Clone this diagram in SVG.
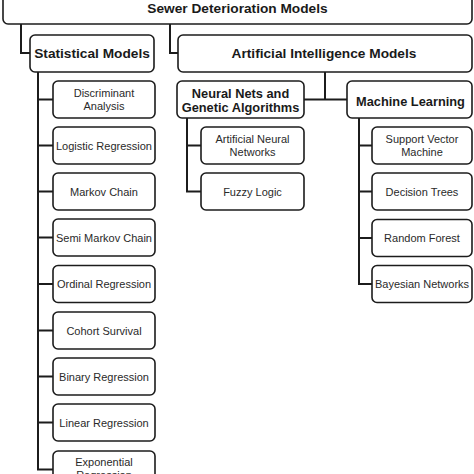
<svg xmlns="http://www.w3.org/2000/svg" width="474" height="474" viewBox="0 0 474 474">
<style>
.box{fill:#fff;stroke:#1c1c1c;stroke-width:1.6}
.con{fill:none;stroke:#1c1c1c;stroke-width:2}
.h{font-family:"Liberation Sans",Arial,sans-serif;font-weight:bold;font-size:13.7px;fill:#1a1a1a;text-anchor:middle}
.h2{font-family:"Liberation Sans",Arial,sans-serif;font-weight:bold;font-size:12.8px;fill:#1a1a1a;text-anchor:middle}
.t{font-family:"Liberation Sans",Arial,sans-serif;font-size:11px;fill:#2a2a2a;text-anchor:middle}
</style>
<rect width="474" height="474" fill="#fff"/>
<g id="connectors">
<path class="con" d="M21,24 V53 H30"/>
<path class="con" d="M170,24 V53 H178"/>
<path class="con" d="M38,72 V469.5 H53 M38,99.5 H53 M38,145.5 H53 M38,191.5 H53 M38,237.5 H53 M38,284 H53 M38,330.5 H53 M38,376.5 H53 M38,422.5 H53"/>
<path class="con" d="M325,72 V99.5 M304,99.5 H347"/>
<path class="con" d="M187,118 V191.5 H201 M187,145.5 H201"/>
<path class="con" d="M359,118 V284 H372 M359,145.5 H372 M359,191.5 H372 M359,238 H372"/>
</g>
<g id="root"><rect class="box" x="3" y="-10" width="469" height="34" rx="5"/><text class="h" x="237.5" y="13">Sewer Deterioration Models</text></g>
<g id="statistical"><rect class="box" x="30" y="35" width="124" height="37" rx="5"/><text class="h" x="92" y="58">Statistical Models</text></g>
<g id="ai"><rect class="box" x="178" y="35" width="294" height="37" rx="5"/><text class="h" x="324" y="58">Artificial Intelligence Models</text></g>
<g id="nn"><rect class="box" x="177" y="81" width="127" height="37" rx="5"/><text class="h2" x="240.5" y="97.5">Neural Nets and</text><text class="h2" x="240.5" y="111.5">Genetic Algorithms</text></g>
<g id="ml"><rect class="box" x="347" y="81" width="125" height="37" rx="5"/><text class="h2" x="410.5" y="105.5">Machine Learning</text></g>
<g id="discriminant"><rect class="box" x="53" y="81" width="102" height="37" rx="5"/><text class="t" x="104" y="97">Discriminant</text><text class="t" x="104" y="110">Analysis</text></g>
<g id="logistic"><rect class="box" x="53" y="127" width="102" height="37" rx="5"/><text class="t" x="104" y="149.5">Logistic Regression</text></g>
<g id="markov"><rect class="box" x="53" y="173" width="102" height="37" rx="5"/><text class="t" x="104" y="195.5">Markov Chain</text></g>
<g id="semimarkov"><rect class="box" x="53" y="219" width="102" height="37" rx="5"/><text class="t" x="104" y="241.5">Semi Markov Chain</text></g>
<g id="ordinal"><rect class="box" x="53" y="265.5" width="102" height="37" rx="5"/><text class="t" x="104" y="288">Ordinal Regression</text></g>
<g id="cohort"><rect class="box" x="53" y="312" width="102" height="37" rx="5"/><text class="t" x="104" y="334.5">Cohort Survival</text></g>
<g id="binary"><rect class="box" x="53" y="358" width="102" height="37" rx="5"/><text class="t" x="104" y="380.5">Binary Regression</text></g>
<g id="linear"><rect class="box" x="53" y="404" width="102" height="37" rx="5"/><text class="t" x="104" y="426.5">Linear Regression</text></g>
<g id="exponential"><rect class="box" x="53" y="451" width="102" height="37" rx="5"/><text class="t" x="104" y="466">Exponential</text><text class="t" x="104" y="479">Regression</text></g>
<g id="ann"><rect class="box" x="201" y="127" width="103" height="37" rx="5"/><text class="t" x="252.5" y="143">Artificial Neural</text><text class="t" x="252.5" y="156">Networks</text></g>
<g id="fuzzy"><rect class="box" x="201" y="173" width="103" height="37" rx="5"/><text class="t" x="252.5" y="195.5">Fuzzy Logic</text></g>
<g id="svm"><rect class="box" x="372" y="127" width="100" height="37" rx="5"/><text class="t" x="422" y="143">Support Vector</text><text class="t" x="422" y="156">Machine</text></g>
<g id="dt"><rect class="box" x="372" y="173" width="100" height="37" rx="5"/><text class="t" x="422" y="195.5">Decision Trees</text></g>
<g id="rf"><rect class="box" x="372" y="219.5" width="100" height="37" rx="5"/><text class="t" x="422" y="242">Random Forest</text></g>
<g id="bn"><rect class="box" x="372" y="265.5" width="100" height="37" rx="5"/><text class="t" x="422" y="288">Bayesian Networks</text></g>
</svg>
